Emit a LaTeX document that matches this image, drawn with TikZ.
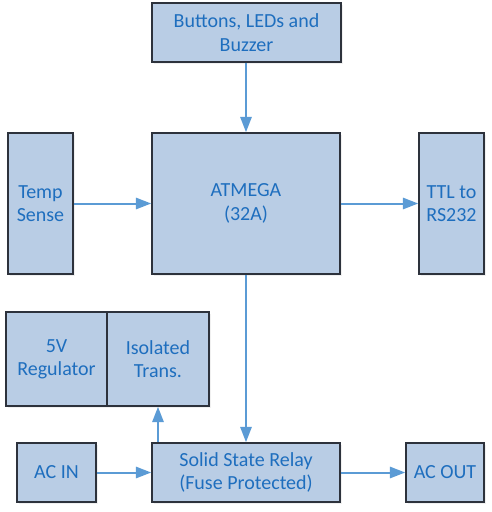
\documentclass[tikz,border=0pt]{standalone}
\usepackage{fontspec}
\setmainfont{Carlito}
\usetikzlibrary{arrows.meta,shadows}
\definecolor{boxfill}{RGB}{185,205,229}
\definecolor{boxline}{RGB}{45,50,60}
\definecolor{txt}{RGB}{30,110,190}
\definecolor{arr}{RGB}{91,155,213}
\begin{document}
\begin{tikzpicture}[x=0.75pt,y=-0.75pt,
  blk/.style 2 args={draw=boxline, line width=1.2pt, fill=boxfill, text=txt,
    minimum width=#1*0.75pt, minimum height=#2*0.75pt, inner sep=0pt,
    align=center, font=\fontsize{15}{17.5}\selectfont,
    drop shadow={opacity=0.12, shadow xshift=1.2pt, shadow yshift=-1.2pt}},
  conn/.style={draw=arr, line width=1.5pt, -{Triangle[length=11.5pt,width=8.5pt]}}]
\useasboundingbox (0,0) rectangle (492,512);
\node[blk={189}{59}] (btn) at (246.5,32.5) {Buttons, LEDs and\\Buzzer};
\node[blk={188}{141}] (atm) at (246,203.5) {ATMEGA\\(32A)};
\node[blk={65}{141}] (temp) at (40.5,203.5) {Temp\\Sense};
\node[blk={65}{141}] (ttl) at (451.5,203.5) {TTL to\\RS232};
\node[blk={101}{94}] (reg) at (56.5,359) {5V\\Regulator};
\node[blk={102}{94}] (iso) at (158,359) {Isolated\\Trans.};
\node[blk={79}{59}] (acin) at (56.5,472.5) {AC IN};
\node[blk={188}{59}] (ssr) at (246,472.5) {Solid State Relay\\(Fuse Protected)};
\node[blk={78}{59}] (acout) at (445,472.5) {AC OUT};
\draw[conn] (btn.south -| atm.north) -- (atm.north);
\draw[conn] (temp.east) -- (atm.west);
\draw[conn] (atm.east) -- (ttl.west);
\draw[conn] (atm.south) -- (ssr.north);
\draw[conn] (iso.south |- ssr.north) -- (iso.south);
\draw[conn] (acin.east) -- (ssr.west);
\draw[conn] (ssr.east) -- (acout.west);
\end{tikzpicture}
\end{document}
